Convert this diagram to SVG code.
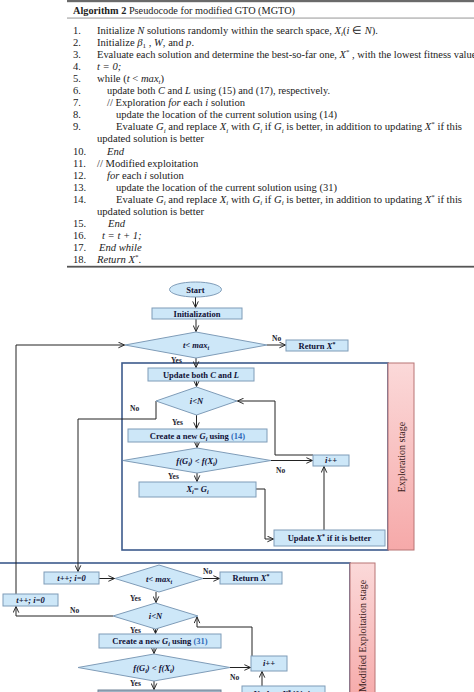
<svg xmlns="http://www.w3.org/2000/svg" width="474" height="692" viewBox="0 0 474 692">
<defs>
<style>
.alg{font-family:"Liberation Serif","Times New Roman",serif;font-size:10.6px;fill:#222}
.num{font-family:"Liberation Serif","Times New Roman",serif;font-size:10.6px;fill:#222}
.it{font-style:italic}
.box{fill:#cde7f8;stroke:#7f9cb8;stroke-width:1}
.gbox{fill:#9fb1c2;stroke:#6f8296;stroke-width:1}
.lbl{font-family:"Liberation Serif","Times New Roman",serif;font-weight:bold;font-size:8.5px;text-anchor:middle;fill:#101036}
.yn{font-family:"Liberation Serif","Times New Roman",serif;font-weight:bold;font-size:7.5px;fill:#1c1c30}
.conn{fill:none;stroke:#222;stroke-width:1}
.frame{fill:none;stroke:#3d5b8c;stroke-width:1.6}
.side{fill:url(#pink);stroke:#b87474;stroke-width:1}
.stage{font-family:"Liberation Serif","Times New Roman",serif;font-size:10px;fill:#3a2020;text-anchor:middle}
.ref{fill:#2f6ab8}
</style>
<linearGradient id="pink" x1="0" y1="0" x2="0" y2="1">
<stop offset="0" stop-color="#fbd9d9"/>
<stop offset="1" stop-color="#f6a9a9"/>
</linearGradient>
<marker id="ar" viewBox="0 0 8 8" refX="7.5" refY="4" markerWidth="7" markerHeight="7" orient="auto" markerUnits="userSpaceOnUse">
<path d="M0.5,0.8 L7.5,4 L0.5,7.2" fill="none" stroke="#222" stroke-width="1.1"/>
</marker>
</defs>
<rect width="474" height="692" fill="#fff"/>

<g id="algorithm">
<rect x="67" y="0" width="407" height="2.2" fill="#6a6a6a"/>
<rect x="67" y="17.6" width="407" height="0.9" fill="#8a8a8a"/>
<rect x="67" y="265.8" width="407" height="1.8" fill="#555"/>
<text class="alg" x="73" y="13.5" textLength="222" lengthAdjust="spacingAndGlyphs"><tspan font-weight="bold">Algorithm 2</tspan> Pseudocode for modified GTO (MGTO)</text>
<g class="num">
<text x="73" y="33.5">1.</text><text x="73" y="45.6">2.</text><text x="73" y="57.7">3.</text><text x="73" y="69.8">4.</text><text x="73" y="81.9">5.</text><text x="73" y="94">6.</text><text x="73" y="106.1">7.</text><text x="73" y="118.2">8.</text><text x="73" y="130.3">9.</text><text x="73" y="154.5">10.</text><text x="73" y="166.6">11.</text><text x="73" y="178.7">12.</text><text x="73" y="190.8">13.</text><text x="73" y="202.9">14.</text><text x="73" y="227.1">15.</text><text x="73" y="239.2">16.</text><text x="73" y="251.3">17.</text><text x="73" y="263.4">18.</text>
</g>
<text class="alg" x="97" y="33.5" textLength="281" lengthAdjust="spacingAndGlyphs">Initialize <tspan class="it">N</tspan> solutions randomly within the search space, <tspan class="it">X</tspan><tspan class="it" font-size="7" dy="2.5">i</tspan><tspan dy="-2.5">(</tspan><tspan class="it">i</tspan> ∈ <tspan class="it">N</tspan>).</text>
<text class="alg" x="97" y="45.6">Initialize <tspan class="it">β</tspan><tspan font-size="7" dy="2.5">1</tspan><tspan dy="-2.5"> , </tspan><tspan class="it">W</tspan>, and <tspan class="it">p</tspan>.</text>
<text class="alg" x="97" y="57.7" textLength="382" lengthAdjust="spacingAndGlyphs">Evaluate each solution and determine the best-so-far one, <tspan class="it">X</tspan><tspan font-size="7" dy="-4">*</tspan><tspan dy="4"> , with the lowest fitness value.</tspan></text>
<text class="alg it" x="97" y="69.8">t = 0;</text>
<text class="alg" x="97" y="81.9">while (<tspan class="it">t</tspan> &lt; <tspan class="it">max</tspan><tspan class="it" font-size="7" dy="2.5">t</tspan><tspan dy="-2.5">)</tspan></text>
<text class="alg" x="107" y="94" textLength="223" lengthAdjust="spacingAndGlyphs">update both <tspan class="it">C</tspan> and <tspan class="it">L</tspan> using (15) and (17), respectively.</text>
<text class="alg" x="107" y="106.1">// Exploration <tspan class="it">for</tspan> each <tspan class="it">i</tspan> solution</text>
<text class="alg" x="116" y="118.2" textLength="221" lengthAdjust="spacingAndGlyphs">update the location of the current solution using (14)</text>
<text class="alg" x="116" y="130.3" textLength="346" lengthAdjust="spacingAndGlyphs">Evaluate <tspan class="it">G</tspan><tspan class="it" font-size="7" dy="2.5">i</tspan><tspan dy="-2.5"> and replace </tspan><tspan class="it">X</tspan><tspan class="it" font-size="7" dy="2.5">i</tspan><tspan dy="-2.5"> with </tspan><tspan class="it">G</tspan><tspan class="it" font-size="7" dy="2.5">i</tspan><tspan dy="-2.5"> if </tspan><tspan class="it">G</tspan><tspan class="it" font-size="7" dy="2.5">i</tspan><tspan dy="-2.5"> is better, in addition to updating </tspan><tspan class="it">X</tspan><tspan font-size="7" dy="-4">*</tspan><tspan dy="4"> if this</tspan></text>
<text class="alg" x="97" y="142.4" textLength="107" lengthAdjust="spacingAndGlyphs">updated solution is better</text>
<text class="alg it" x="107" y="154.5">End</text>
<text class="alg" x="97" y="166.6">// Modified exploitation</text>
<text class="alg" x="107" y="178.7"><tspan class="it">for</tspan> each <tspan class="it">i</tspan> solution</text>
<text class="alg" x="116" y="190.8" textLength="221" lengthAdjust="spacingAndGlyphs">update the location of the current solution using (31)</text>
<text class="alg" x="116" y="202.9" textLength="346" lengthAdjust="spacingAndGlyphs">Evaluate <tspan class="it">G</tspan><tspan class="it" font-size="7" dy="2.5">i</tspan><tspan dy="-2.5"> and replace </tspan><tspan class="it">X</tspan><tspan class="it" font-size="7" dy="2.5">i</tspan><tspan dy="-2.5"> with </tspan><tspan class="it">G</tspan><tspan class="it" font-size="7" dy="2.5">i</tspan><tspan dy="-2.5"> if </tspan><tspan class="it">G</tspan><tspan class="it" font-size="7" dy="2.5">i</tspan><tspan dy="-2.5"> is better, in addition to updating </tspan><tspan class="it">X</tspan><tspan font-size="7" dy="-4">*</tspan><tspan dy="4"> if this</tspan></text>
<text class="alg" x="97" y="215" textLength="107" lengthAdjust="spacingAndGlyphs">updated solution is better</text>
<text class="alg it" x="108" y="227.1">End</text>
<text class="alg it" x="102" y="239.2">t = t + 1;</text>
<text class="alg it" x="99" y="251.3">End while</text>
<text class="alg" x="97" y="263.4"><tspan class="it">Return X</tspan><tspan font-size="7" dy="-4">*</tspan><tspan dy="4">.</tspan></text>
</g>

<g id="frames">
<rect class="frame" x="122" y="363" width="266" height="187"/>
<rect class="side" x="388" y="363" width="26" height="187"/>
<text class="stage" transform="translate(405,457) rotate(-90)">Exploration stage</text>
<rect class="frame" x="-2" y="563" width="352" height="160"/>
<rect class="side" x="350" y="563" width="25" height="140"/>
<text class="stage" transform="translate(366,636) rotate(-90)">Modified Exploitation stage</text>
</g>

<g id="connectors">
<path class="conn" d="M195.5,297 L195.5,307.5" marker-end="url(#ar)"/>
<path class="conn" d="M196,319 L196,331.5" marker-end="url(#ar)"/>
<path class="conn" d="M267,345 L285.5,345" marker-end="url(#ar)"/>
<path class="conn" d="M16,594 L16,345 L124.5,345" marker-end="url(#ar)"/>
<path class="conn" d="M196,358 L196,367.5" marker-end="url(#ar)"/>
<path class="conn" d="M196.5,381 L196.5,386.5" marker-end="url(#ar)"/>
<path class="conn" d="M156,401 L156,419 L78,419 L78,571.5" marker-end="url(#ar)"/>
<path class="conn" d="M313,455 L275,455 L275,401 L237.5,401" marker-end="url(#ar)"/>
<path class="conn" d="M196.5,415 L196.5,428.5" marker-end="url(#ar)"/>
<path class="conn" d="M197,442 L197,447.5" marker-end="url(#ar)"/>
<path class="conn" d="M271,460.5 L312.5,460.5" marker-end="url(#ar)"/>
<path class="conn" d="M197,473 L197,481.5" marker-end="url(#ar)"/>
<path class="conn" d="M256,489 L265,489 L265,539 L273.5,539" marker-end="url(#ar)"/>
<path class="conn" d="M324,530 L324,466.5" marker-end="url(#ar)"/>
<path class="conn" d="M99,578.5 L114.5,578.5" marker-end="url(#ar)"/>
<path class="conn" d="M203,578.5 L219.5,578.5" marker-end="url(#ar)"/>
<path class="conn" d="M156,592 L156,602.5" marker-end="url(#ar)"/>
<path class="conn" d="M113,616 L16,616 L16,606.5" marker-end="url(#ar)"/>
<path class="conn" d="M252,656 L252,627 L197,627 L197,617" marker-end="url(#ar)"/>
<path class="conn" d="M155.5,629 L155.5,633.5" marker-end="url(#ar)"/>
<path class="conn" d="M154,648 L154,653.5" marker-end="url(#ar)"/>
<path class="conn" d="M230,667.5 L250.5,667.5" marker-end="url(#ar)"/>
<path class="conn" d="M154,681 L154,689.5" marker-end="url(#ar)"/>
<path class="conn" d="M262,686 L262,671.5" marker-end="url(#ar)"/>
<g class="yn">
<text x="272" y="341">No</text>
<text x="171" y="362.5">Yes</text>
<text x="130" y="411">No</text>
<text x="172" y="424.5">Yes</text>
<text x="276" y="473">No</text>
<text x="168" y="479">Yes</text>
<text x="203" y="574">No</text>
<text x="130" y="600.5">Yes</text>
<text x="70" y="613">No</text>
<text x="130" y="632.5">Yes</text>
<text x="230" y="680">No</text>
<text x="130" y="685.5">Yes</text>
</g>
</g>

<g id="start"><ellipse class="box" cx="195.5" cy="289.5" rx="26" ry="7.5"/><text class="lbl" x="195.5" y="292.5">Start</text></g>
<g id="init"><rect class="box" x="152" y="308" width="90" height="11"/><text class="lbl" x="197" y="316.5">Initialization</text></g>
<g id="cond1"><polygon class="box" points="125,345 196,332 267,345 196,358"/><text class="lbl" x="196" y="348" font-style="italic">t&lt; max<tspan font-size="6" dy="2">t</tspan></text></g>
<g id="ret1"><rect class="box" x="286" y="340" width="62" height="11"/><text class="lbl" x="317" y="348.5">Return <tspan font-style="italic">X</tspan><tspan font-size="6" dy="-3">*</tspan></text></g>
<g id="update-cl"><rect class="box" x="148" y="368" width="106" height="13"/><text class="lbl" x="201" y="377.5">Update both <tspan font-style="italic">C</tspan> and <tspan font-style="italic">L</tspan></text></g>
<g id="iN1"><polygon class="box" points="156,401 196.5,387 237,401 196.5,415"/><text class="lbl" x="196.5" y="404" font-style="italic">i&lt;N</text></g>
<g id="create14"><rect class="box" x="128" y="429" width="139" height="13"/><text class="lbl" x="197.5" y="438.5">Create a new <tspan font-style="italic">G</tspan><tspan font-style="italic" font-size="6" dy="2">i</tspan><tspan dy="-2">  using </tspan><tspan class="ref">(14)</tspan></text></g>
<g id="fcomp1"><polygon class="box" points="123,460.5 197,448 271,460.5 197,473"/><text class="lbl" x="197" y="463.5" font-style="italic">f(G<tspan font-size="6" dy="2">i</tspan><tspan dy="-2">) &lt; f(X</tspan><tspan font-size="6" dy="2">i</tspan><tspan dy="-2">)</tspan></text></g>
<g id="inc1"><rect class="box" x="313" y="455" width="36" height="11"/><text class="lbl" x="331" y="463" font-style="italic">i++</text></g>
<g id="assign1"><rect class="box" x="139" y="482" width="117" height="15"/><text class="lbl" x="197.5" y="492" font-style="italic">X<tspan font-size="6" dy="2">i</tspan><tspan dy="-2">= G</tspan><tspan font-size="6" dy="2">i</tspan></text></g>
<g id="updx1"><rect class="box" x="274" y="530" width="111" height="16"/><text class="lbl" x="329.5" y="540.5">Update  <tspan font-style="italic">X</tspan><tspan font-size="6" dy="-3">*</tspan><tspan dy="3"> if it is better</tspan></text></g>

<g id="tinc1"><rect class="box" x="44" y="572" width="55" height="12"/><text class="lbl" x="71.5" y="580.5" font-style="italic">t++; i=0</text></g>
<g id="cond2"><polygon class="box" points="115,578.5 159,565 203,578.5 159,592"/><text class="lbl" x="159" y="581.5" font-style="italic">t&lt; max<tspan font-size="6" dy="2">t</tspan></text></g>
<g id="ret2"><rect class="box" x="220" y="572" width="62" height="12"/><text class="lbl" x="251" y="580.5">Return <tspan font-style="italic">X</tspan><tspan font-size="6" dy="-3">*</tspan></text></g>
<g id="tinc2"><rect class="box" x="3" y="594" width="55" height="12"/><text class="lbl" x="30.5" y="602.5" font-style="italic">t++; i=0</text></g>
<g id="iN2"><polygon class="box" points="113,616 155.5,603 198,616 155.5,629"/><text class="lbl" x="155.5" y="619" font-style="italic">i&lt;N</text></g>
<g id="create31"><rect class="box" x="99" y="634" width="122" height="14"/><text class="lbl" x="160" y="643.5">Create a new <tspan font-style="italic">G</tspan><tspan font-style="italic" font-size="6" dy="2">i</tspan><tspan dy="-2">  using </tspan><tspan class="ref">(31)</tspan></text></g>
<g id="fcomp2"><polygon class="box" points="78,667.5 154,654 230,667.5 154,681"/><text class="lbl" x="154" y="670.5" font-style="italic">f(G<tspan font-size="6" dy="2">i</tspan><tspan dy="-2">) &lt; f(X</tspan><tspan font-size="6" dy="2">i</tspan><tspan dy="-2">)</tspan></text></g>
<g id="inc2"><rect class="box" x="251" y="656" width="36" height="15"/><text class="lbl" x="269" y="666" font-style="italic">i++</text></g>
<g id="assign2"><rect class="gbox" x="98" y="690" width="123" height="20"/></g>
<g id="updx2"><rect class="box" x="242" y="686" width="83" height="20"/><text class="lbl" x="283.5" y="697">Update  <tspan font-style="italic">X</tspan><tspan font-size="6" dy="-3">*</tspan><tspan dy="3"> if it is</tspan></text></g>
</svg>
